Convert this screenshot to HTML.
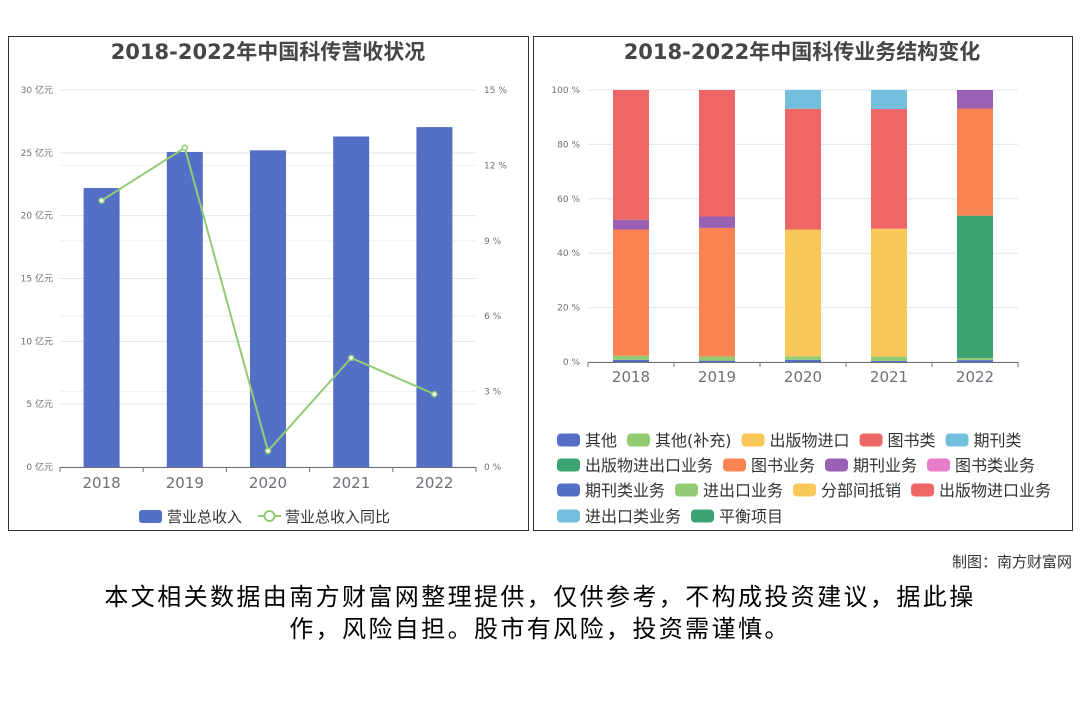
<!DOCTYPE html>
<html><head><meta charset="utf-8">
<style>
html,body{margin:0;padding:0;background:#fff;}
body{width:1080px;height:720px;position:relative;overflow:hidden;font-family:"DejaVu Sans","Noto Sans CJK SC",sans-serif;}
svg text{font-family:"DejaVu Sans","Noto Sans CJK SC",sans-serif;}
.foot{position:absolute;right:8px;top:551px;font-size:15px;color:#333;font-family:"Liberation Sans","Noto Sans CJK SC",sans-serif;}
.disc{position:absolute;left:40px;width:1000px;top:582px;font-size:24px;line-height:32px;color:#000;text-align:center;letter-spacing:2.4px;font-family:"Liberation Sans","Noto Sans CJK SC",sans-serif;}
</style></head><body>
<svg id="s" width="1080" height="540" style="position:absolute;left:0;top:0">
<rect x="8.5" y="36.5" width="520" height="494" fill="none" stroke="#333"/>
<rect x="533.5" y="36.5" width="539" height="494" fill="none" stroke="#333"/>
<text x="268" y="59" text-anchor="middle" font-size="21" font-weight="bold" fill="#464646">2018-2022年中国科传营收状况</text>
<text x="802" y="59" text-anchor="middle" font-size="21" font-weight="bold" fill="#464646">2018-2022年中国科传业务结构变化</text>
<g id="L"></g><g id="R"></g>
</svg>
<div class="foot">制图：南方财富网</div>
<div class="disc">本文相关数据由南方财富网整理提供，仅供参考，不构成投资建议，据此操<br>作，风险自担。股市有风险，投资需谨慎。</div>
<script>
const years=['2018','2019','2020','2021','2022'];
const revenue=[22.2,25.07,25.2,26.3,27.05];
const growth=[10.6,12.7,0.64,4.34,2.9];
const revTicks=[0,5,10,15,20,25,30];
const pctTicks=[0,3,6,9,12,15];
const stackNames=['其他','其他(补充)','出版物进口','图书类','期刊类','出版物进出口业务','图书业务','期刊业务','图书类业务','期刊类业务','进出口业务','分部间抵销','出版物进口业务','进出口类业务','平衡项目'];
const stackColors=['#5470c6','#91cc75','#fac858','#ee6666','#73c0de','#3ba272','#fc8452','#9a60b4','#ea7ccc','#5470c6','#91cc75','#fac858','#ee6666','#73c0de','#3ba272'];
const s_other=[0.8,0.5,0.8,0.4,0.7];
const s_otherSup=[1.5,1.5,1.3,1.6,0.8];
const s_pubImport=[0,0,46.6,47,0];
const s_books=[0,0,44.4,44,0];
const s_journals=[0,0,6.9,7,0];
const s_pubIE=[0,0,0,0,52.3];
const s_bookBiz=[46.4,47.3,0,0,39.4];
const s_journalBiz=[3.6,4.2,0,0,6.8];
const s_bookClassBiz=[0,0,0,0,0];
const s_journalClassBiz=[0,0,0,0,0];
const s_ieBiz=[0,0,0,0,0];
const s_elim=[0,0,0,0,0];
const s_pubImportBiz=[47.7,46.5,0,0,0];
const s_ieClassBiz=[0,0,0,0,0];
const s_balance=[0,0,0,0,0];
const stackSeries=[s_other,s_otherSup,s_pubImport,s_books,s_journals,s_pubIE,s_bookBiz,s_journalBiz,s_bookClassBiz,s_journalClassBiz,s_ieBiz,s_elim,s_pubImportBiz,s_ieClassBiz,s_balance];
const pctAxisTicks=[0,20,40,60,80,100];

const NS='http://www.w3.org/2000/svg';
function mk(p,t,a,txt){const e=document.createElementNS(NS,t);for(const k in a)e.setAttribute(k,a[k]);if(txt!=null)e.textContent=txt;p.appendChild(e);return e;}
// LEFT
const L=document.getElementById('L');
const lx0=60,lx1=476,ly0=467,ly1=90;
const yL=v=>ly0-(v/30)*(ly0-ly1);
const yP=v=>ly0-(v/15)*(ly0-ly1);
const bwL=(lx1-lx0)/years.length;
const xL=i=>lx0+bwL*(i+0.5);
revTicks.forEach(t=>{const y=yL(t);
 let g=mk(L,'line',{x1:lx0,x2:lx1,y1:y,y2:y,stroke:'#e0e6f1'});
 
 let tx=mk(L,'text',{x:53,y:y+3,'text-anchor':'end','font-size':9,fill:'#6e7079'},t+' 亿元');
 });
pctTicks.forEach(t=>{const y=yP(t);
 if(t%5!==0&&t!==0){let g=mk(L,'line',{x1:lx0,x2:lx1,y1:y,y2:y,stroke:'#eef1f7'});}
 let tx=mk(L,'text',{x:484,y:y+3,'font-size':9,fill:'#6e7079'},t+' %');
 });
revenue.forEach((v,i)=>{let r=mk(L,'rect',{x:xL(i)-18,y:yL(v),width:36,height:ly0-yL(v),fill:'#5470c6'});
 });
let ax=mk(L,'line',{x1:lx0,x2:lx1,y1:ly0+.5,y2:ly0+.5,stroke:'#6e7079'});
for(let i=0;i<=years.length;i++){let t=mk(L,'line',{x1:lx0+bwL*i,x2:lx0+bwL*i,y1:ly0,y2:ly0+5,stroke:'#6e7079'});}
years.forEach((y,i)=>{let t=mk(L,'text',{x:xL(i),y:488,'text-anchor':'middle','font-size':15,fill:'#6e7079'},y);});
let pl=mk(L,'polyline',{points:growth.map((v,i)=>xL(i)+','+yP(v)).join(' '),fill:'none',stroke:'#91cc75','stroke-width':2});

growth.forEach((v,i)=>{let c=mk(L,'circle',{cx:xL(i),cy:yP(v),r:2.5,fill:'#fff',stroke:'#91cc75','stroke-width':1.5});});
// left legend
let lg1=mk(L,'rect',{x:139,y:510,width:23,height:13,rx:3,fill:'#5470c6'});
let lt1=mk(L,'text',{x:167,y:522,'font-size':15,fill:'#333'},'营业总收入');
let lg2=mk(L,'line',{x1:258,x2:281,y1:516,y2:516,stroke:'#91cc75','stroke-width':2});
let lg3=mk(L,'circle',{cx:269.5,cy:516,r:5,fill:'#fff',stroke:'#91cc75','stroke-width':2});
let lt2=mk(L,'text',{x:285,y:522,'font-size':15,fill:'#333'},'营业总收入同比');
// RIGHT
const R=document.getElementById('R');
const rx0=588,rx1=1018,ry0=362,ry1=90;
const yR=v=>ry0-(v/100)*(ry0-ry1);
const bwR=(rx1-rx0)/years.length;
const xR=i=>rx0+bwR*(i+0.5);
pctAxisTicks.forEach(t=>{const y=yR(t);
 let g=mk(R,'line',{x1:rx0,x2:rx1,y1:y,y2:y,stroke:'#e0e6f1'});
 let tx=mk(R,'text',{x:580,y:y+3,'text-anchor':'end','font-size':9,fill:'#6e7079'},t+' %');});
years.forEach((yr,i)=>{let acc=0;
 stackSeries.forEach((ser,k)=>{const v=ser[i];if(v<=0)return;
  let r=mk(R,'rect',{x:xR(i)-18,y:yR(acc+v),width:36,height:yR(acc)-yR(acc+v),fill:stackColors[k]});
  acc+=v;});});
let ax2=mk(R,'line',{x1:rx0,x2:rx1,y1:ry0+.5,y2:ry0+.5,stroke:'#6e7079'});
for(let i=0;i<=years.length;i++){let t=mk(R,'line',{x1:rx0+bwR*i,x2:rx0+bwR*i,y1:ry0,y2:ry0+5,stroke:'#6e7079'});}
years.forEach((y,i)=>{let t=mk(R,'text',{x:xR(i),y:382,'text-anchor':'middle','font-size':15,fill:'#6e7079'},y);});
// right legend rows
const rows=[[0,1,2,3,4],[5,6,7,8],[9,10,11,12],[13,14]];
const rowY=[440,465,490,516];
rows.forEach((row,ri)=>{let x=557;row.forEach(k=>{
 let ic=mk(R,'rect',{x:x,y:rowY[ri]-6.5,width:23,height:13,rx:4,fill:stackColors[k]});
 
 let t=mk(R,'text',{x:x+28,y:rowY[ri]+6,'font-size':16,fill:'#333'},stackNames[k]);
 
 x+=28+t.getComputedTextLength()+10;});});
</script>
</body></html>
